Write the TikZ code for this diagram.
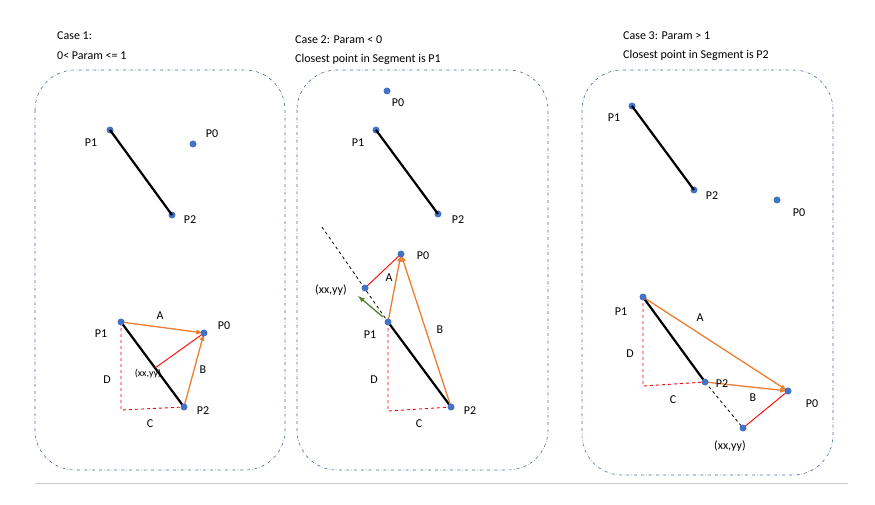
\documentclass[tikz,border=0pt]{standalone}
\usepackage{fontspec}
\setmainfont{Carlito}
\begin{document}
\begin{tikzpicture}[x=1pt,y=-1pt,
  dot/.style={circle,fill=dotblue,inner sep=0pt,minimum size=7pt},
  lbl/.style={font=\fontsize{12}{14}\selectfont,inner sep=0pt},
  tit/.style={font=\fontsize{12}{14}\selectfont,inner sep=0pt,anchor=west},
  box/.style={draw=boxc,dash dot,rounded corners=40pt,line width=0.6pt},
  seg/.style={line width=2.2pt,black},
  org/.style={draw=orange1,line width=1.3pt,-latex,shorten >=1pt},
  red1/.style={draw=red,line width=0.9pt},
  reddash/.style={draw=red,dashed,line width=0.9pt},
  blk/.style={draw=black,dashed,line width=0.8pt}]
\definecolor{dotblue}{HTML}{4472C4}
\definecolor{boxc}{HTML}{4A6A9A}
\definecolor{orange1}{HTML}{ED7D31}
\definecolor{green1}{HTML}{548235}
\useasboundingbox (0,0) rectangle (875,505);
\draw[gray!40,line width=0.6pt] (35,483) -- (848,483);
\draw[box] (35,70) rectangle (285,470);
\draw[box] (297,70) rectangle (548,470);
\draw[box] (582,70) rectangle (833,475);
\node[tit] (t1a) at (57,36) {Case 1:};
\node[tit] (t1b) at (57,56) {0< Param <= 1};
\node[tit] (t2a) at (295,40) {Case 2: Param < 0};
\node[tit] (t2b) at (295,59) {Closest point in Segment is P1};
\node[tit] (t3a) at (623,36) {Case 3: Param > 1};
\node[tit] (t3b) at (623,55) {Closest point in Segment is P2};
% Panel 1 top
\node[dot] (a1) at (110,130) {}; \node[dot] (a2) at (172,215) {}; \node[dot] (a0) at (193,144) {};
\draw[seg] (a1.center) -- (a2.center);
\node[lbl] (la1) at (91,143) {P1}; \node[lbl] (la0) at (212,134) {P0}; \node[lbl] (la2) at (190,220) {P2};
% Panel 1 bottom
\coordinate (bc) at (121,410); \coordinate (bx) at (155,368);
\draw[reddash] (121,322) -- (bc) -- (184,407);
\draw[seg] (121,322) -- (184,407);
\draw[red1] (bx) -- (204,333);
\draw[org] (121,322) -- (204,333);
\draw[org] (184,407) -- (204,333);
\node[dot] (b1) at (121,322) {}; \node[dot] (b0) at (204,333) {}; \node[dot] (b2) at (184,407) {};
\node[lbl] (lbx) at (148,374) {\fontsize{10}{12}\selectfont(xx,yy)};
\node[lbl] (lA1) at (160,316) {A}; \node[lbl] (lb0) at (224,326) {P0}; \node[lbl] (lb1) at (101,334) {P1};
\node[lbl] (lD1) at (107,380) {D}; \node[lbl] (lB1) at (203,370) {B}; \node[lbl] (lC1) at (150,424) {C}; \node[lbl] (lb2) at (203,411) {P2};
% Panel 2 top
\node[dot] (c0) at (387,91) {}; \node[dot] (c1) at (376,130) {}; \node[dot] (c2) at (438,214) {};
\draw[seg] (c1.center) -- (c2.center);
\node[lbl] (lc0) at (398,103) {P0}; \node[lbl] (lc1) at (358,143) {P1}; \node[lbl] (lc2) at (458,220) {P2};
% Panel 2 bottom
\coordinate (dtop) at (322,227); \coordinate (dc) at (388,411);
\draw[blk] (dtop) -- (388,322);
\draw[reddash] (388,322) -- (dc) -- (451,407);
\draw[seg] (388,322) -- (451,407);
\draw[red1] (365,288) -- (401,254);
\draw[org] (388,322) -- (401,254);
\draw[org] (451,407) -- (401,254);
\draw[green1,line width=1.3pt,-latex] (383,317) -- (358,296);
\node[dot] (d0) at (401,254) {}; \node[dot] (d1) at (388,322) {}; \node[dot] (d2) at (451,407) {}; \node[dot] (dx) at (365,288) {};
\node[lbl] (ld0) at (423,256) {P0}; \node[lbl] (ld1) at (370,335) {P1}; \node[lbl] (ld2) at (470,411) {P2};
\node[lbl] (ldx) at (331,290) {(xx,yy)};
\node[lbl] (lA2) at (389,278) {A}; \node[lbl] (lB2) at (440,330) {B}; \node[lbl] (lD2) at (374,380) {D}; \node[lbl] (lC2) at (419,424) {C};
% Panel 3 top
\node[dot] (e1) at (632,106) {}; \node[dot] (e2) at (694,190) {}; \node[dot] (e0) at (777,200) {};
\draw[seg] (e1.center) -- (e2.center);
\node[lbl] (le1) at (614,118) {P1}; \node[lbl] (le2) at (712,196) {P2}; \node[lbl] (le0) at (799,213) {P0};
% Panel 3 bottom
\coordinate (fc) at (643,386);
\draw[reddash] (643,297) -- (fc) -- (705,382);
\draw[blk] (705,382) -- (743,428);
\draw[seg] (643,297) -- (705,382);
\draw[red1] (743,428) -- (788,391);
\draw[org] (643,297) -- (788,391);
\draw[org] (705,382) -- (788,391);
\node[dot] (f1) at (643,297) {}; \node[dot] (f2) at (705,382) {}; \node[dot] (f0) at (788,391) {}; \node[dot] (fx) at (743,428) {};
\node[lbl] (lf1) at (621,312) {P1}; \node[lbl] (lf2) at (722,384) {P2}; \node[lbl] (lf0) at (812,404) {P0};
\node[lbl] (lfx) at (730,446) {(xx,yy)};
\node[lbl] (lA3) at (700,318) {A}; \node[lbl] (lD3) at (630,354) {D}; \node[lbl] (lC3) at (673,400) {C}; \node[lbl] (lB3) at (753,398) {B};
\end{tikzpicture}
\end{document}
